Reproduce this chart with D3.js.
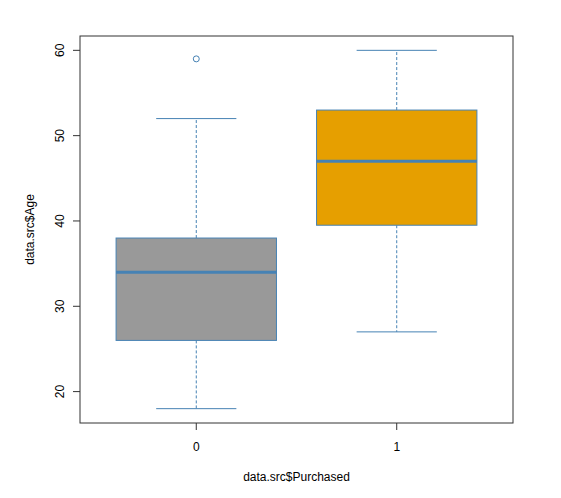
<!DOCTYPE html>
<html><head><meta charset="utf-8">
<script src="https://cdn.jsdelivr.net/npm/d3@7"></script>
<style>body{margin:0;background:#fff}svg{display:block}text{font-family:"Liberation Sans",Arial,sans-serif;fill:#000}</style>
</head><body>
<script>
const categories = ["0", "1"];
const lowerWhisker = [18, 27];
const q1 = [26, 39.5];
const median = [34, 47];
const q3 = [38, 53];
const upperWhisker = [52, 60];
const outliers = [[59], []];
const fills = ["#999999", "#E69F00"];
const yTicks = [20, 30, 40, 50, 60];

const W = 561, H = 498;
const L = 80, R = 513, T = 36, B = 423;
const svg = d3.select("body").append("svg").attr("width", W).attr("height", H);

const x = d3.scaleLinear().domain([0.42, 2.58]).range([L, R]);
const y = d3.scaleLinear().domain([16.32, 61.68]).range([B, T]);
const stroke = "#4682B4";

categories.forEach((c, i) => {
  const cx = x(i + 1);
  const bw = x(1.4) - x(1);
  const cw = x(1.2) - x(1);
  const g = svg.append("g");
  g.append("line").attr("x1", cx).attr("x2", cx).attr("y1", y(q3[i])).attr("y2", y(upperWhisker[i]))
    .attr("stroke", stroke).attr("stroke-width", 1).attr("stroke-dasharray", "3,2");
  g.append("line").attr("x1", cx).attr("x2", cx).attr("y1", y(q1[i])).attr("y2", y(lowerWhisker[i]))
    .attr("stroke", stroke).attr("stroke-width", 1).attr("stroke-dasharray", "3,2");
  [upperWhisker[i], lowerWhisker[i]].forEach(v => {
    g.append("line").attr("x1", cx - cw).attr("x2", cx + cw).attr("y1", y(v)).attr("y2", y(v))
      .attr("stroke", stroke).attr("stroke-width", 1);
  });
  g.append("rect").attr("x", cx - bw).attr("width", 2 * bw)
    .attr("y", y(q3[i])).attr("height", y(q1[i]) - y(q3[i]))
    .attr("fill", fills[i]).attr("stroke", stroke).attr("stroke-width", 1);
  g.append("line").attr("x1", cx - bw).attr("x2", cx + bw).attr("y1", y(median[i])).attr("y2", y(median[i]))
    .attr("stroke", stroke).attr("stroke-width", 3);
  outliers[i].forEach(v => {
    g.append("circle").attr("cx", cx).attr("cy", y(v)).attr("r", 3)
      .attr("fill", "none").attr("stroke", stroke).attr("stroke-width", 1);
  });
});

svg.append("rect").attr("x", L).attr("y", T).attr("width", R - L).attr("height", B - T)
  .attr("fill", "none").attr("stroke", "#333").attr("stroke-width", 1);

const yAxis = svg.append("g");
yTicks.forEach(t => {
  yAxis.append("line").attr("x1", L - 7).attr("x2", L).attr("y1", y(t)).attr("y2", y(t)).attr("stroke", "#333");
  yAxis.append("text").attr("transform", `translate(${L - 16},${y(t)}) rotate(-90)`)
    .attr("text-anchor", "middle").attr("font-size", 12).text(t);
});
const xAxis = svg.append("g");
categories.forEach((c, i) => {
  xAxis.append("line").attr("x1", x(i + 1)).attr("x2", x(i + 1)).attr("y1", B).attr("y2", B + 7).attr("stroke", "#333");
  xAxis.append("text").attr("x", x(i + 1)).attr("y", B + 28).attr("text-anchor", "middle").attr("font-size", 12).text(c);
});

svg.append("text").attr("x", (L + R) / 2).attr("y", 481).attr("text-anchor", "middle").attr("font-size", 12).text("data.src$Purchased");
svg.append("text").attr("transform", `translate(34,${(T + B) / 2}) rotate(-90)`).attr("text-anchor", "middle").attr("font-size", 12).text("data.src$Age");
</script>
</body></html>
